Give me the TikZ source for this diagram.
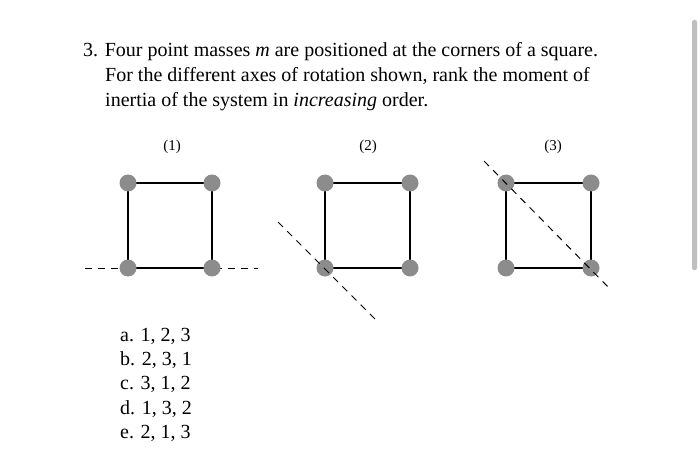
\documentclass[tikz,border=0pt]{standalone}
\usepackage{fontspec}
\setmainfont{Liberation Serif}
\begin{document}
\begin{tikzpicture}[x=1pt,y=-1pt,
  mass/.style={circle,fill=gray!90,inner sep=0pt,minimum size=17pt},
  edge/.style={line width=1.6pt},
  axis/.style={line width=1pt,dash pattern=on 7pt off 6pt},
  txt/.style={anchor=base west,inner sep=0pt,font=\fontsize{20}{24}\selectfont},
  lbl/.style={font=\fontsize{15}{18}\selectfont}]
\useasboundingbox (0,0) rectangle (700,454);
\fill[gray!50,rounded corners=2pt] (692,20) rectangle (697,270);
\node[txt] (t1) at (83,57) {3. Four point masses \textit{m} are positioned at the corners of a square.};
\node[txt] (t2) at (105,82) {For the different axes of rotation shown, rank the moment of};
\node[txt] (t3) at (105,107) {inertia of the system in \textit{increasing} order.};
\node[lbl] (l1) at (172,147) {(1)};
\node[lbl] (l2) at (368,147) {(2)};
\node[lbl] (l3) at (553,147) {(3)};
% square 1
\coordinate (a1) at (128,183); \coordinate (b1) at (212,183);
\coordinate (c1) at (212,268); \coordinate (d1) at (128,268);
\coordinate (e1) at (85,268); \coordinate (f1) at (258,268);
\draw[axis] (e1) -- (f1);
\draw[edge] (a1) -- (b1) -- (c1) -- (d1) -- cycle;
\foreach \p in {a1,b1,c1,d1} \node[mass] at (\p) {};
% square 2
\coordinate (a2) at (325,183); \coordinate (b2) at (410,183);
\coordinate (c2) at (410,268); \coordinate (d2) at (325,268);
\coordinate (e2) at (278,222); \coordinate (f2) at (375,319);
\draw[edge] (a2) -- (b2) -- (c2) -- (d2) -- cycle;
\foreach \p in {a2,b2,c2,d2} \node[mass] at (\p) {};
\draw[axis] (e2) -- (f2);
% square 3
\coordinate (a3) at (506,183); \coordinate (b3) at (591,183);
\coordinate (c3) at (591,268); \coordinate (d3) at (506,268);
\coordinate (e3) at (484,161); \coordinate (f3) at (611,290);
\draw[edge] (a3) -- (b3) -- (c3) -- (d3) -- cycle;
\foreach \p in {a3,b3,c3,d3} \node[mass] at (\p) {};
\draw[axis] (e3) -- (f3);
% answers
\node[txt] (ansa) at (120,341) {a. 1, 2, 3};
\node[txt] (ansb) at (120,365) {b. 2, 3, 1};
\node[txt] (ansc) at (120,389) {c. 3, 1, 2};
\node[txt] (ansd) at (120,414) {d. 1, 3, 2};
\node[txt] (anse) at (120,438) {e. 2, 1, 3};
\end{tikzpicture}
\end{document}
